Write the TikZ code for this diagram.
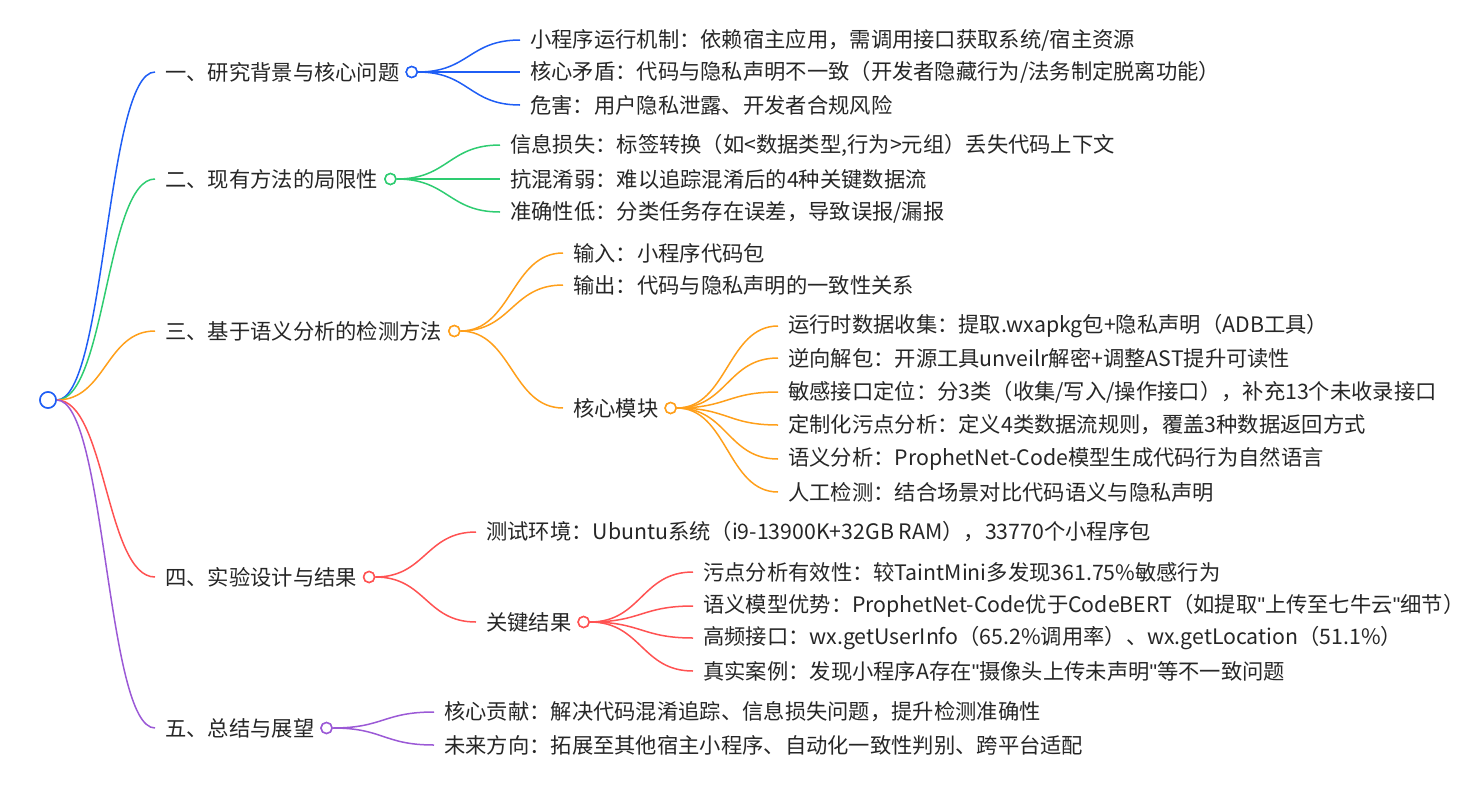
\documentclass[tikz,border=0pt]{standalone}
\usepackage{fontspec}
\setmainfont{Noto Sans CJK SC}
\newfontfamily\qfont{Liberation Sans}
\usetikzlibrary{calc}
\definecolor{cb}{HTML}{1F5EF5}
\definecolor{cg}{HTML}{2ECC71}
\definecolor{co}{HTML}{FF9F1A}
\definecolor{cr}{HTML}{FF5252}
\definecolor{cp}{HTML}{9B59D6}
\newcommand{\dq}{{\qfont\char"22\relax}}
\tikzset{
 t/.style={anchor=west,inner sep=0pt,font=\fontsize{21.3}{25}\selectfont,text=black!85},
 dot/.style={circle,draw=#1,fill=white,line width=1.5pt,minimum size=11pt,inner sep=0pt},
 lk/.style={draw=#1,line width=1.5pt},
}
\newcommand{\lnk}[3]{\draw[lk=#1] let \p1=(#2),\p2=(#3) in (#2) .. controls ({(\x1+\x2)/2},\y1) and ({(\x1+\x2)/2},\y2) .. (#3);}
\begin{document}
\begin{tikzpicture}[x=1pt,y=-1pt]
\useasboundingbox (0,0) rectangle (1476,796);
\node[dot=cb,minimum size=16pt] (root) at (48,400) {};
% level 1
\node[t] (n1) at (165,72) {一、研究背景与核心问题};
\node[t] (n2) at (165,179) {二、现有方法的局限性};
\node[t] (n3) at (165,331) {三、基于语义分析的检测方法};
\node[t] (n4) at (165,577) {四、实验设计与结果};
\node[t] (n5) at (165,728) {五、总结与展望};
\foreach \i/\c in {1/cb,2/cg,3/co,4/cr,5/cp}{
 \coordinate (e\i) at ($(n\i.west)+(-10,0)$);
 \node[dot=\c] (c\i) at ($(n\i.east)+(12,0)$) {};
 \lnk{\c}{root.east}{e\i}
}
% children of 1
\node[t] (a1) at (530,40) {小程序运行机制：依赖宿主应用，需调用接口获取系统/宿主资源};
\node[t] (a2) at (530,72) {核心矛盾：代码与隐私声明不一致（开发者隐藏行为/法务制定脱离功能）};
\node[t] (a3) at (530,105) {危害：用户隐私泄露、开发者合规风险};
% children of 2
\node[t] (b1) at (510,145) {信息损失：标签转换（如<数据类型,行为>元组）丢失代码上下文};
\node[t] (b2) at (510,179) {抗混淆弱：难以追踪混淆后的4种关键数据流};
\node[t] (b3) at (510,212) {准确性低：分类任务存在误差，导致误报/漏报};
% children of 3
\node[t] (d1) at (573,253) {输入：小程序代码包};
\node[t] (d2) at (573,285) {输出：代码与隐私声明的一致性关系};
\node[t] (d3) at (573,408) {核心模块};
\node[dot=co] (c33) at ($(d3.east)+(12,0)$) {};
\node[t] (m1) at (788,326) {运行时数据收集：提取.wxapkg包+隐私声明（ADB工具）};
\node[t] (m2) at (788,358) {逆向解包：开源工具unveilr解密+调整AST提升可读性};
\node[t] (m3) at (788,392) {敏感接口定位：分3类（收集/写入/操作接口），补充13个未收录接口};
\node[t] (m4) at (788,425) {定制化污点分析：定义4类数据流规则，覆盖3种数据返回方式};
\node[t] (m5) at (788,459) {语义分析：ProphetNet-Code模型生成代码行为自然语言};
\node[t] (m6) at (788,492) {人工检测：结合场景对比代码语义与隐私声明};
% children of 4
\node[t] (f1) at (486,532) {测试环境：Ubuntu系统（i9-13900K+32GB RAM），33770个小程序包};
\node[t] (f2) at (486,622) {关键结果};
\node[dot=cr] (c42) at ($(f2.east)+(12,0)$) {};
\node[t] (k1) at (703,572) {污点分析有效性：较TaintMini多发现361.75\%敏感行为};
\node[t] (k2) at (703,606) {语义模型优势：ProphetNet-Code优于CodeBERT（如提取\dq 上传至七牛云\dq 细节）};
\node[t] (k3) at (703,638) {高频接口：wx.getUserInfo（65.2\%调用率）、wx.getLocation（51.1\%）};
\node[t] (k4) at (703,671) {真实案例：发现小程序A存在\dq 摄像头上传未声明\dq 等不一致问题};
% children of 5
\node[t] (g1) at (444,712) {核心贡献：解决代码混淆追踪、信息损失问题，提升检测准确性};
\node[t] (g2) at (444,745) {未来方向：拓展至其他宿主小程序、自动化一致性判别、跨平台适配};
% links
\foreach \q in {a1,a2,a3}{\coordinate (x\q) at ($(\q.west)+(-10,0)$); \lnk{cb}{c1.east}{x\q}}
\foreach \q in {b1,b2,b3}{\coordinate (x\q) at ($(\q.west)+(-10,0)$); \lnk{cg}{c2.east}{x\q}}
\foreach \q in {d1,d2,d3}{\coordinate (x\q) at ($(\q.west)+(-10,0)$); \lnk{co}{c3.east}{x\q}}
\foreach \q in {m1,m2,m3,m4,m5,m6}{\coordinate (x\q) at ($(\q.west)+(-10,0)$); \lnk{co}{c33.east}{x\q}}
\foreach \q in {f1,f2}{\coordinate (x\q) at ($(\q.west)+(-10,0)$); \lnk{cr}{c4.east}{x\q}}
\foreach \q in {k1,k2,k3,k4}{\coordinate (x\q) at ($(\q.west)+(-10,0)$); \lnk{cr}{c42.east}{x\q}}
\foreach \q in {g1,g2}{\coordinate (x\q) at ($(\q.west)+(-10,0)$); \lnk{cp}{c5.east}{x\q}}
% redraw dots on top
\foreach \i/\c in {1/cb,2/cg,3/co,4/cr,5/cp}{\node[dot=\c] at (c\i) {};}
\node[dot=co] at (c33) {};
\node[dot=cr] at (c42) {};
\node[dot=cb,minimum size=16pt] at (root) {};
\end{tikzpicture}
\end{document}
